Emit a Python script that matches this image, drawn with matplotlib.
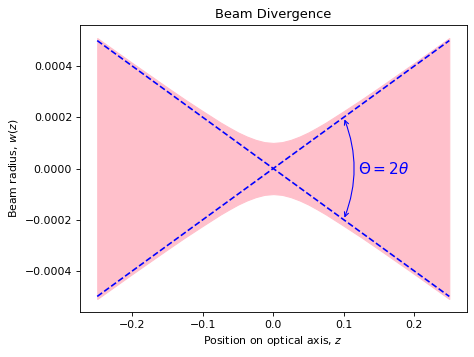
import numpy as np
import matplotlib
matplotlib.use('Agg')
import matplotlib.pyplot as plt

# positions along the optical axis and beam radius
z = [-0.25, -0.225, -0.2, -0.175, -0.15, -0.125, -0.1, -0.0875, -0.075, -0.0625,
     -0.05, -0.0375, -0.025, -0.0125, 0.0, 0.0125, 0.025, 0.0375, 0.05, 0.0625,
     0.075, 0.0875, 0.1, 0.125, 0.15, 0.175, 0.2, 0.225, 0.25]
w = [5.10e-4, 4.61e-4, 4.12e-4, 3.64e-4, 3.16e-4, 2.69e-4, 2.24e-4, 2.02e-4, 1.80e-4, 1.60e-4,
     1.41e-4, 1.25e-4, 1.12e-4, 1.03e-4, 1.00e-4, 1.03e-4, 1.12e-4, 1.25e-4, 1.41e-4, 1.60e-4,
     1.80e-4, 2.02e-4, 2.24e-4, 2.69e-4, 3.16e-4, 3.64e-4, 4.12e-4, 4.61e-4, 5.10e-4]

# far-field asymptotes
z_asym = [-0.25, 0.25]
w_asym = [-5.0e-4, 5.0e-4]

# divergence annotation
arc_z = 0.1
arc_w = 2.0e-4
label_z = 0.12
label = r'$\Theta = 2\theta$'

z = np.array(z)
w = np.array(w)

fig, ax = plt.subplots(figsize=(474 / 78, 357 / 78), dpi=78)
fig.subplots_adjust(left=0.168, right=0.985, bottom=0.126, top=0.930)
ax.fill_between(z, -w, w, color='pink')
ax.plot(z_asym, w_asym, 'b--')
ax.plot(z_asym, w_asym[::-1], 'b--')

ax.annotate('', xy=(arc_z, -arc_w), xytext=(arc_z, arc_w),
            arrowprops=dict(arrowstyle='<->', connectionstyle='arc3,rad=-0.2', color='b'))
ax.text(label_z, 0, label, color='b', fontsize=14, va='center')

ax.set_title('Beam Divergence')
ax.set_xlabel('Position on optical axis, $z$')
ax.set_ylabel('Beam radius, $w(z)$')
plt.savefig('out.png')
